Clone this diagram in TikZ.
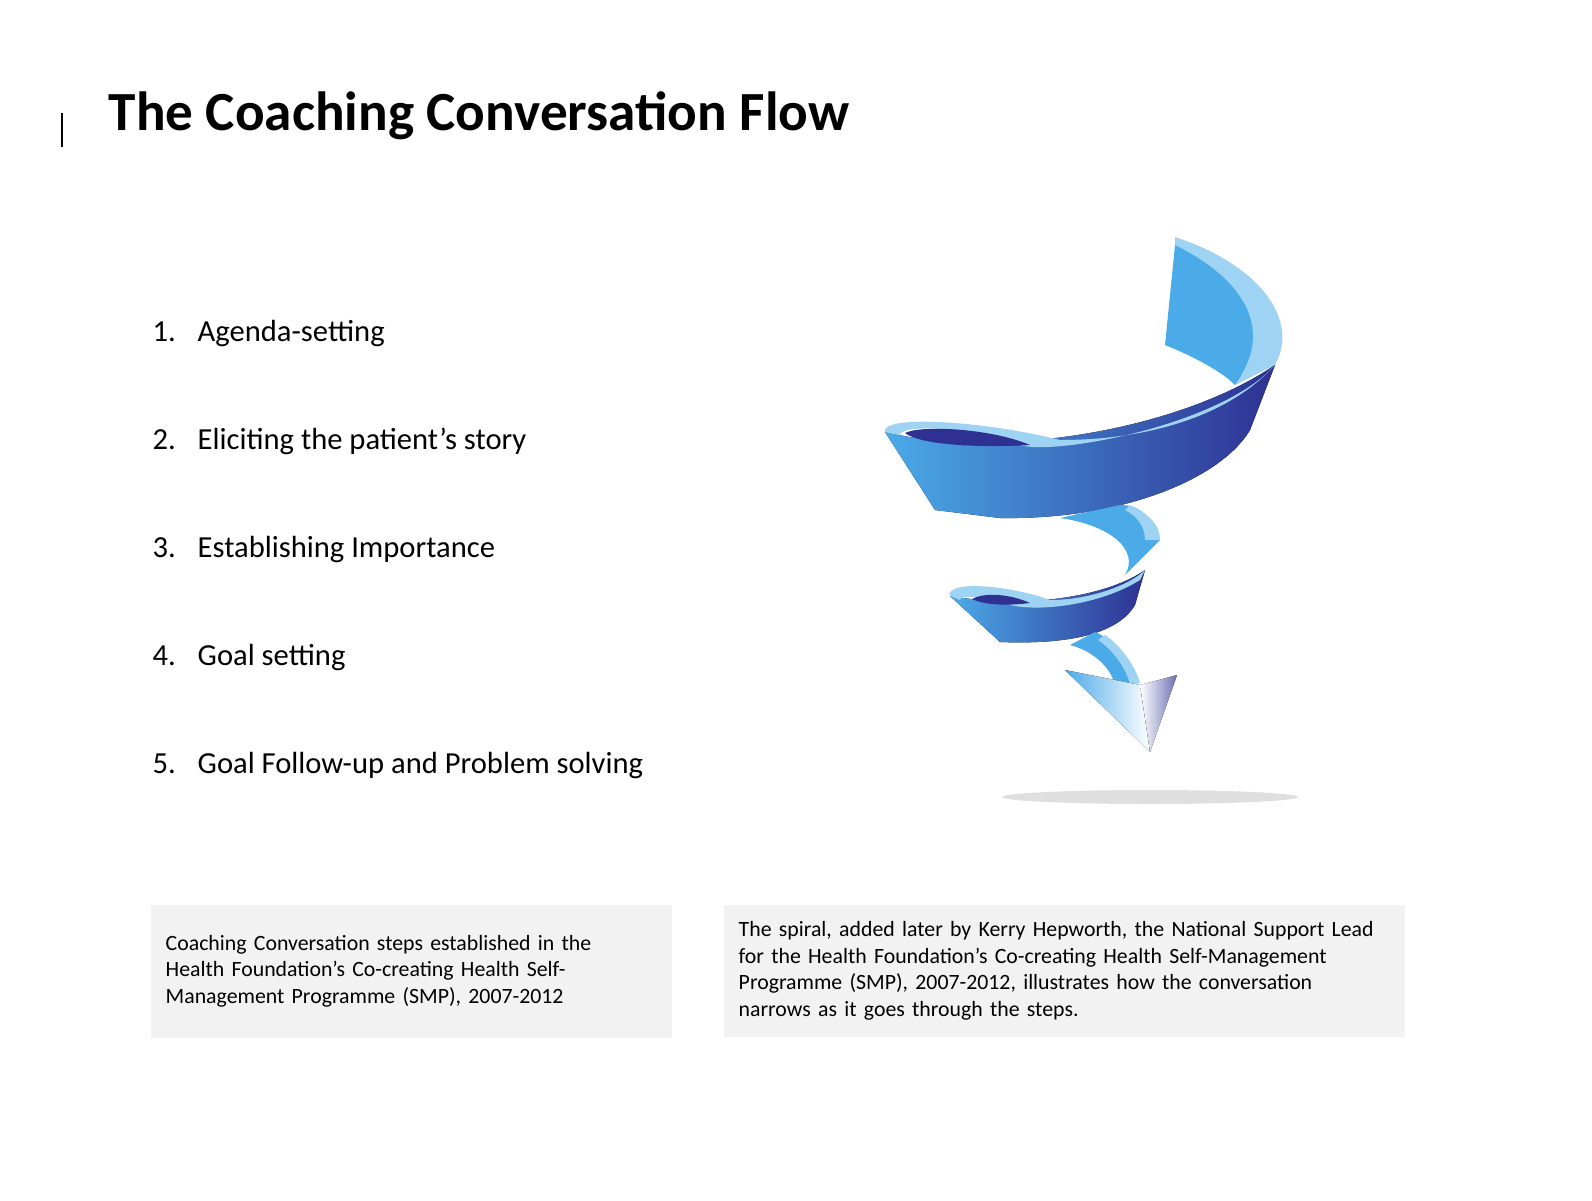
\documentclass[tikz,border=0pt]{standalone}
\usepackage{fontspec}
\setmainfont{Carlito}
\usetikzlibrary{positioning}
\definecolor{ribbonlight}{HTML}{4BAAE8}
\definecolor{ribbonedge}{HTML}{9ED3F3}
\definecolor{ribbondark}{HTML}{2E3192}
\definecolor{notefill}{HTML}{F2F2F2}
\tikzstyle{stepitem} = [anchor=base west, font=\fontsize{8.7}{11}\selectfont, inner sep=0pt]
\tikzstyle{notebox} = [anchor=north west, fill=notefill, inner xsep=0.15cm, inner ysep=0.17cm, align=left, font=\fontsize{6.2}{7.5}\selectfont]
\tikzstyle{band} = [left color=ribbonlight, right color=ribbondark, draw=none]
\begin{document}
\begin{tikzpicture}[x=0.01cm, y=-0.01cm]
        \useasboundingbox (0,0) rectangle (1592,1200);

        % Title
        \draw [line width=0.4pt] (62,113) -- (62,147);
        \node (title) [anchor=base west, inner sep=0pt, font=\fontsize{15.7}{20}\selectfont\bfseries] at (108,130) {The Coaching Conversation Flow};

        % Steps
        \foreach \n/\txt [count=\i from 0] in {1/Agenda-setting, 2/Eliciting the patient’s story, 3/Establishing Importance, 4/Goal setting, 5/Goal Follow-up and Problem solving} {
            \node (num\n) [stepitem] at (152,341+108*\i) {\n.};
            \node (step\n) [stepitem] at (197,341+108*\i) {\txt};
        }

        % Notes
        \node (noteleft) [notebox, text width=4.91cm, minimum height=1.33cm] at (150,904) {Coaching Conversation steps established in the\\Health Foundation’s Co-creating Health Self-\\Management Programme (SMP), 2007-2012\\[2.5em]};
        \node (noteright) [notebox, text width=6.51cm, minimum height=1.32cm] at (723,904) {The spiral, added later by Kerry Hepworth, the National Support Lead\\for the Health Foundation’s Co-creating Health Self-Management\\Programme (SMP), 2007-2012, illustrates how the conversation\\narrows as it goes through the steps.\\[0.5em]};

        % Spiral: shadow
        \fill [gray!25] (1150,797) ellipse [x radius=148, y radius=7];
        % top ribbon
        \fill [ribbonedge] (1175,237) .. controls (1260,265) and (1300,320) .. (1275,365) -- (1235,385) .. controls (1270,340) and (1250,290) .. (1175,250) -- cycle;
        \fill [ribbonlight] (1165,345) -- (1175,245) .. controls (1245,280) and (1275,330) .. (1235,385) .. controls (1220,370) and (1190,355) .. (1165,345) -- cycle;
        % big loop
        \fill [band] (885,432) .. controls (1000,460) and (1180,430) .. (1275,365) -- (1250,430) .. controls (1220,480) and (1120,520) .. (1000,518) -- (935,510) -- cycle;
        \fill [ribbonedge] (885,432) .. controls (880,415) and (980,420) .. (1060,440) .. controls (1150,440) and (1230,415) .. (1275,365) -- (1265,375) .. controls (1200,430) and (1050,455) .. (1020,445) .. controls (960,425) and (900,425) .. (900,435) -- cycle;
        \fill [ribbondark] (905,433) .. controls (920,425) and (990,428) .. (1030,445) .. controls (980,448) and (920,445) .. (905,433) -- cycle;
        % middle twist
        \fill [ribbonlight] (1060,518) .. controls (1110,525) and (1140,550) .. (1125,575) -- (1160,540) .. controls (1150,515) and (1140,505) .. (1120,505) -- cycle;
        \fill [ribbonedge] (1130,505) .. controls (1150,515) and (1160,525) .. (1160,540) -- (1145,540) .. controls (1145,525) and (1135,515) .. (1125,510) -- cycle;
        % second loop
        \fill [band] (950,596) .. controls (1030,610) and (1110,595) .. (1145,570) -- (1135,605) .. controls (1120,630) and (1080,645) .. (1000,642) -- cycle;
        \fill [ribbonedge] (950,596) .. controls (945,580) and (1010,585) .. (1050,600) .. controls (1090,600) and (1130,585) .. (1145,570) -- (1140,580) .. controls (1100,605) and (1040,612) .. (1010,605) .. controls (980,595) and (960,595) .. (960,600) -- cycle;
        \fill [ribbondark] (972,599) .. controls (985,592) and (1010,594) .. (1030,603) .. controls (1005,606) and (985,605) .. (972,599) -- cycle;
        % arrow
        \fill [ribbonlight] (1070,645) .. controls (1090,650) and (1110,665) .. (1115,685) -- (1140,683) .. controls (1130,660) and (1115,640) .. (1095,632) -- cycle;
        \fill [ribbonedge] (1105,635) .. controls (1120,645) and (1135,665) .. (1140,683) -- (1130,684) .. controls (1125,665) and (1110,648) .. (1098,640) -- cycle;
        \fill [left color=ribbonlight, right color=white] (1065,670) -- (1140,685) -- (1150,752) -- cycle;
        \fill [left color=white, right color=ribbondark!70] (1140,685) -- (1177,675) -- (1150,752) -- cycle;
    \end{tikzpicture}
\end{document}
